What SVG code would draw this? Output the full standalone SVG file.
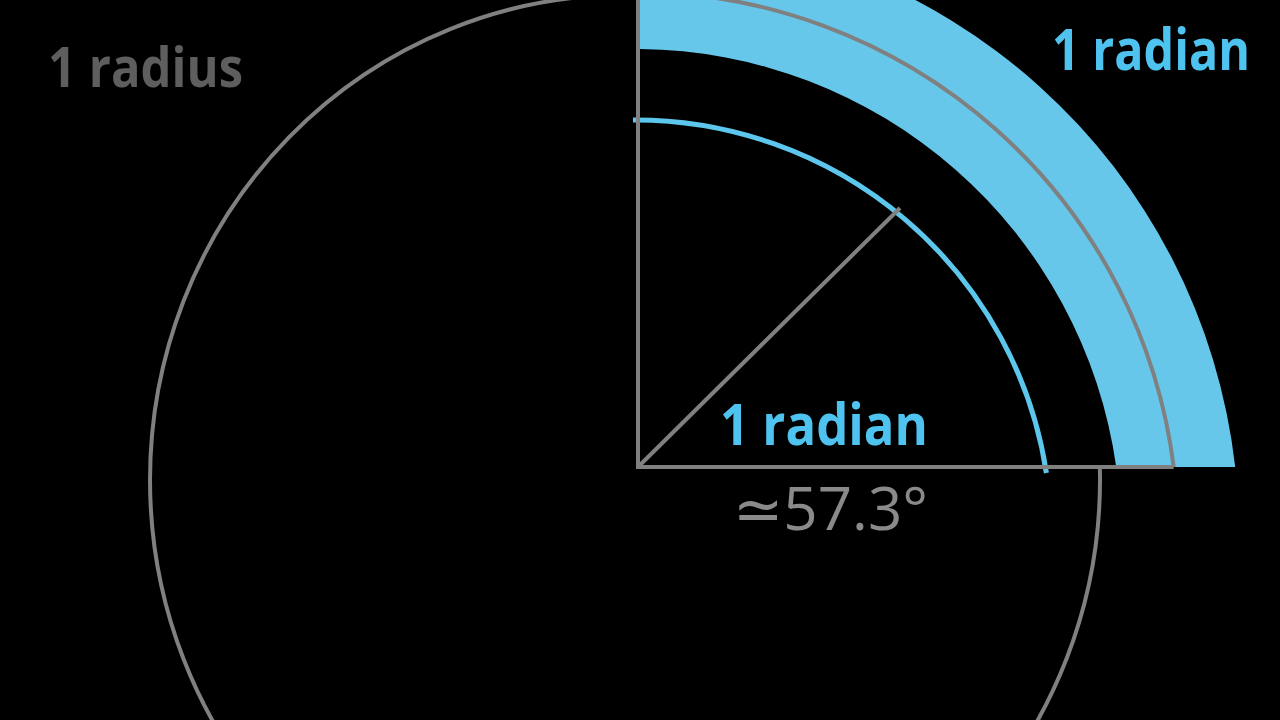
<svg xmlns="http://www.w3.org/2000/svg" width="1280" height="720" viewBox="0 0 1280 720">
  <defs>
    <clipPath id="outside">
      <path d="M-10,-10 H638 V467 H1290 V730 H-10 Z"/>
    </clipPath>
  </defs>
  <style>
    .gray { fill: none; stroke: #808080; stroke-width: 4; }
    .thin { fill: none; stroke: #5cc6ec; stroke-width: 5; }
    .band { fill: #66c7ea; stroke: none; }
    .lbl { font-family: "Open Sans", "DejaVu Sans", sans-serif; font-weight: 700; }
    .blue { fill: #4fc3ef; }
  </style>
  <rect width="1280" height="720" fill="#000000"/>
  <g id="circle" clip-path="url(#outside)">
    <ellipse class="gray" cx="625" cy="480" rx="475" ry="485"/>
  </g>
  <g id="band">
    <path class="band" d="M640,-69 A604,604 0 0 1 1235.2,467 L1116.2,467 A486,486 0 0 0 640,49 Z"/>
    <path class="gray" stroke-width="3.5" d="M638,-8 A543,543 0 0 1 1173.7,467"/>
  </g>
  <g id="arc">
    <path class="thin" d="M633,120 A416,416 0 0 1 1046.4,473"/>
  </g>
  <g id="connectors">
    <line class="gray" x1="638" y1="-5" x2="638" y2="467"/>
    <line class="gray" x1="636" y1="467" x2="1173.7" y2="467"/>
    <line class="gray" x1="639" y1="466" x2="900" y2="208"/>
  </g>
  <g id="labels">
    <text class="lbl" x="48" y="87" font-size="56" fill="#5e5e5e" textLength="195" lengthAdjust="spacingAndGlyphs">1 radius</text>
    <text class="lbl blue" x="1052" y="70" font-size="58" textLength="198" lengthAdjust="spacingAndGlyphs">1 radian</text>
    <text class="lbl blue" x="720" y="445" font-size="58" textLength="208" lengthAdjust="spacingAndGlyphs">1 radian</text>
    <text x="733" y="530" font-family="Open Sans, DejaVu Sans, sans-serif" font-size="60" fill="#8a8a8a" textLength="195" lengthAdjust="spacingAndGlyphs">≃57.3°</text>
  </g>
</svg>
